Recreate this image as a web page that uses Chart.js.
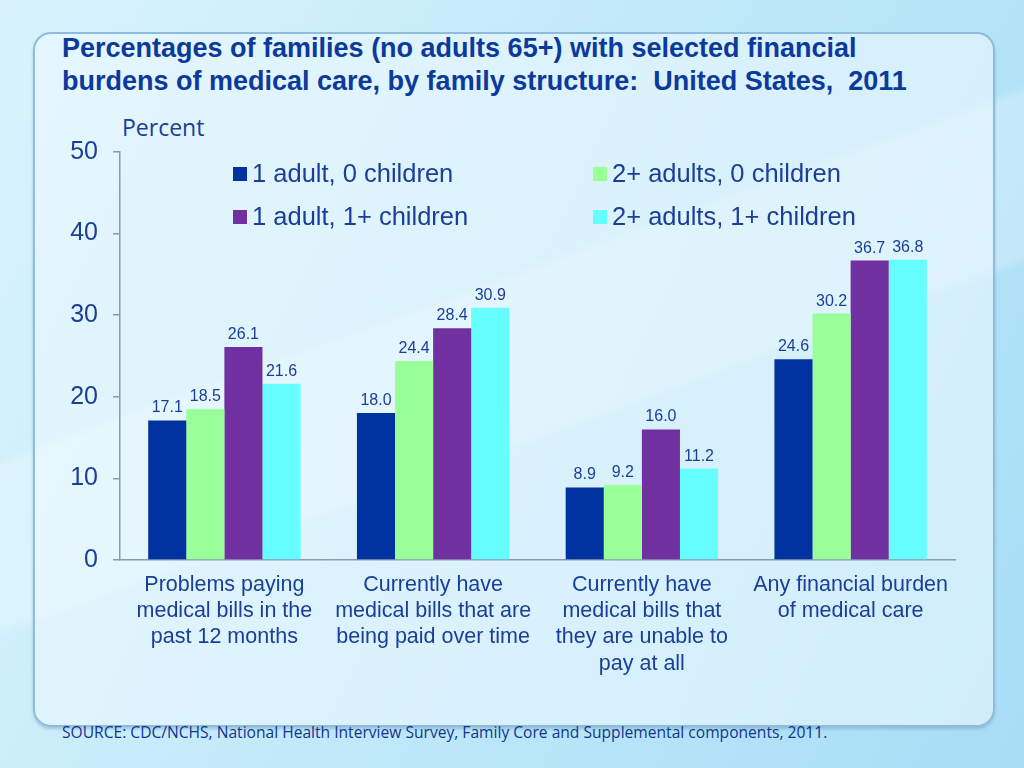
<!DOCTYPE html>
<html>
<head>
<meta charset="utf-8">
<script src="https://cdn.jsdelivr.net/npm/chart.js@4"></script>
<style>
  html, body { margin: 0; padding: 0; }
  body {
    width: 1024px; height: 768px; overflow: hidden; position: relative;
    background: linear-gradient(115deg, #d8f3fc 0%, #c8ecfa 35%, #b6e4f8 70%, #a8ddf6 100%);
    font-family: "Liberation Sans", Arial, sans-serif;
  }
  .streak1 {
    position: absolute; left: 0; top: 0; width: 1024px; height: 768px;
    background: linear-gradient(160deg, rgba(255,255,255,0) 40%, rgba(255,255,255,0.25) 41%, rgba(255,255,255,0.25) 55%, rgba(255,255,255,0) 56%);
  }
  .panel {
    position: absolute; left: 33px; top: 32px; width: 958px; height: 691px;
    border: 2px solid #8fbcdc; border-radius: 18px;
    background: rgba(240, 250, 255, 0.55);
    box-shadow: 0 2px 3px rgba(80,120,160,0.35);
  }
  .title {
    position: absolute; left: 62px; top: 32px;
    font-family: "Liberation Sans", Arial, sans-serif;
    font-weight: bold; font-size: 27px; line-height: 33px; color: #0c3a9c;
  }
  .ylabel {
    position: absolute; left: 122px; top: 111px;
    font-family: "Open Sans", sans-serif; font-size: 23px; color: #1a3f98;
  }
  .source {
    position: absolute; left: 62px; top: 721px;
    font-family: "Open Sans", sans-serif; font-size: 15.6px; color: #12358f;
  }
  canvas { position: absolute; left: 0; top: 0; }
</style>
</head>
<body>
<div class="streak1"></div>
<div class="panel"></div>
<div class="title">Percentages of families (no adults 65+) with selected financial<br>burdens of medical care, by family structure:&nbsp; United States,&nbsp; 2011</div>
<div class="ylabel">Percent</div>
<div class="source">SOURCE: CDC/NCHS, National Health Interview Survey, Family Core and Supplemental components, 2011.</div>
<canvas id="chart" width="1024" height="768"></canvas>
<script>
// ---- data ----
const categories = [
  ["Problems paying", "medical bills in the", "past 12 months"],
  ["Currently have", "medical bills that are", "being paid over time"],
  ["Currently have", "medical bills that", "they are unable to", "pay at all"],
  ["Any financial burden", "of medical care"]
];
const seriesNames = ["1 adult, 0 children", "2+ adults, 0 children", "1 adult, 1+ children", "2+ adults, 1+ children"];
const oneAdultNoKids = [17.1, 18.0, 8.9, 24.6];
const twoAdultsNoKids = [18.5, 24.4, 9.2, 30.2];
const oneAdultKids = [26.1, 28.4, 16.0, 36.7];
const twoAdultsKids = [21.6, 30.9, 11.2, 36.8];
const yTicks = [0, 10, 20, 30, 40, 50];

const seriesColors = ["#0033a0", "#99ff99", "#7030a0", "#66ffff"];
const textColor = "#1a3f98";

// value labels above each bar
const valueLabels = {
  id: "valueLabels",
  afterDatasetsDraw(chart) {
    const ctx = chart.ctx;
    ctx.save();
    ctx.font = "16px 'Liberation Sans', Arial, sans-serif";
    ctx.fillStyle = textColor;
    ctx.textAlign = "center";
    ctx.textBaseline = "alphabetic";
    chart.data.datasets.forEach((ds, i) => {
      chart.getDatasetMeta(i).data.forEach((bar, j) => {
        ctx.fillText(ds.data[j].toFixed(1), bar.x, bar.y - 8);
      });
    });
    ctx.restore();
  }
};

// 2x2 legend, as in the slide
const gridLegend = {
  id: "gridLegend",
  afterDraw(chart) {
    const ctx = chart.ctx;
    const cols = [233, 593];
    const rows = [174, 217];
    ctx.save();
    ctx.font = "25.5px 'Liberation Sans', Arial, sans-serif";
    ctx.textBaseline = "middle";
    chart.data.datasets.forEach((ds, i) => {
      const x = cols[i % 2];
      const y = rows[Math.floor(i / 2)];
      ctx.fillStyle = ds.backgroundColor;
      ctx.fillRect(x, y - 7, 14, 14);
      ctx.fillStyle = textColor;
      ctx.fillText(ds.label, x + 19, y + 1);
    });
    ctx.restore();
  }
};

const allSeries = [oneAdultNoKids, twoAdultsNoKids, oneAdultKids, twoAdultsKids];

new Chart(document.getElementById("chart"), {
  type: "bar",
  data: {
    labels: categories,
    datasets: allSeries.map((vals, i) => ({
      label: seriesNames[i],
      data: vals,
      backgroundColor: seriesColors[i],
      categoryPercentage: 0.73,
      barPercentage: 1.0
    }))
  },
  options: {
    responsive: false,
    animation: false,
    layout: { padding: { left: 70, top: 152, right: 69, bottom: 68 } },
    plugins: {
      legend: { display: false },
      tooltip: { enabled: false }
    },
    scales: {
      x: {
        grid: { display: false, drawTicks: false },
        border: { display: true, color: "#8a9bb0", width: 1.5 },
        ticks: {
          color: textColor,
          font: { family: "'Liberation Sans', Arial, sans-serif", size: 21.5, lineHeight: 1.22 },
          padding: 12,
          maxRotation: 0,
          autoSkip: false
        },
        afterFit(scale) { scale.height = 140; }
      },
      y: {
        min: 0,
        max: 50,
        afterBuildTicks(scale) { scale.ticks = yTicks.map(v => ({ value: v })); },
        grid: { drawOnChartArea: false, drawTicks: true, tickLength: 7, color: "#8a9bb0", lineWidth: 1.5 },
        border: { display: true, color: "#8a9bb0", width: 1.5 },
        ticks: {
          color: textColor,
          font: { family: "'Liberation Sans', Arial, sans-serif", size: 25 },
          padding: 15
        },
        afterFit(scale) { scale.width = 50; }
      }
    }
  },
  plugins: [valueLabels, gridLegend]
});
</script>
</body>
</html>
